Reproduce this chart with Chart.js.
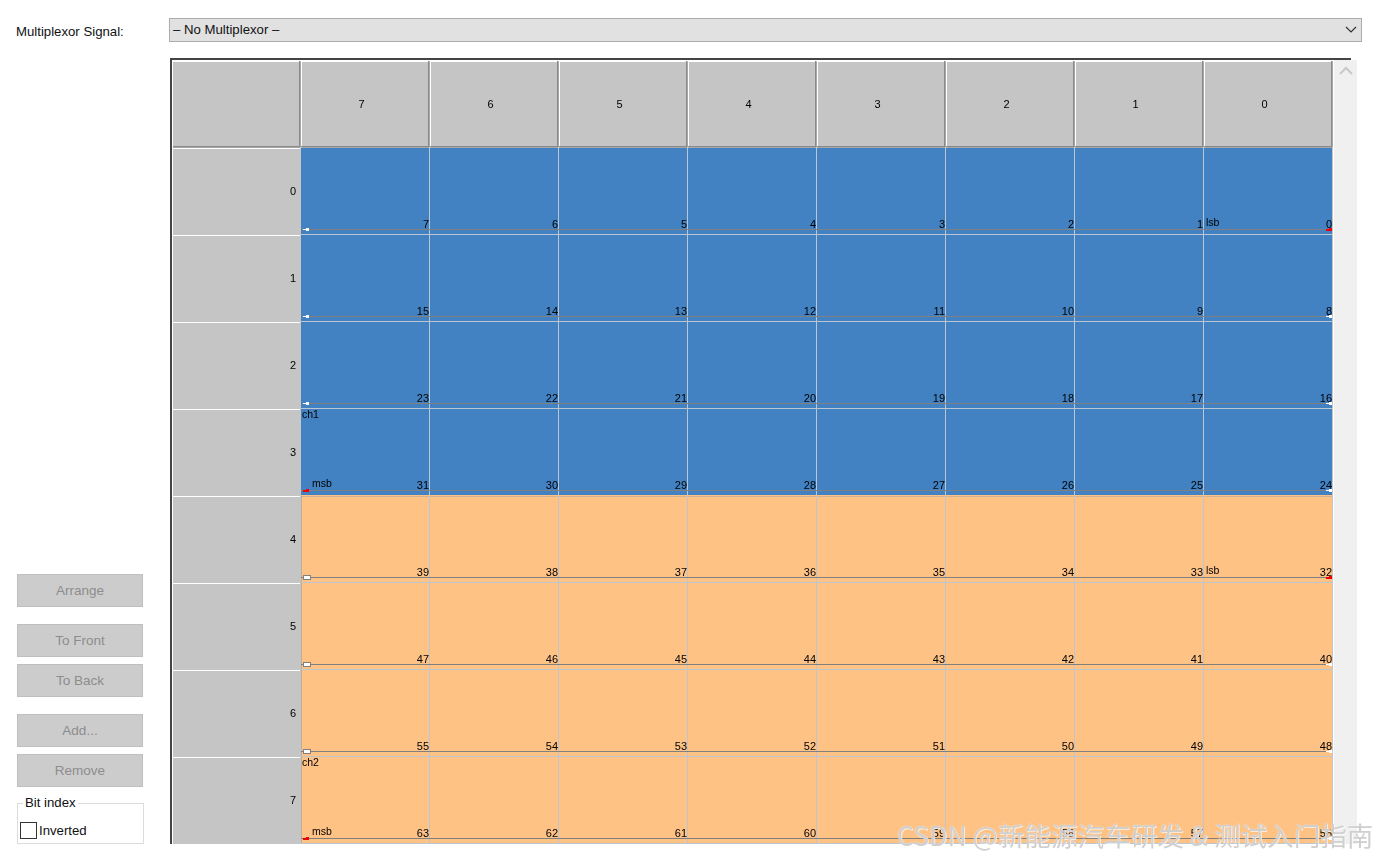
<!DOCTYPE html>
<html lang="en">
<head>
<meta charset="UTF-8">
<title>Message layout</title>
<script src="https://cdn.jsdelivr.net/npm/chart.js"></script>
<style>
    body { margin: 0; background: #fff; font-family: "Liberation Sans", Arial, sans-serif; overflow: hidden; }
    .ui { position: absolute; box-sizing: border-box; }
    .label { font-size: 13.2px; color: #111; white-space: nowrap; }
    .combo { left: 169px; top: 18px; width: 1193px; height: 24px; background: #e1e1e1; border: 1px solid #adadad; font-size: 13.2px; line-height: 22px; padding-left: 3px; color: #111; }
    .combo svg { position: absolute; right: 3px; top: 6px; }
    .btn { left: 17px; width: 126px; height: 33px; background: #ccc; border: 1px solid #bfbfbf; color: #8c8c8c; font-size: 13.5px; line-height: 31px; text-align: center; }
    .group { left: 17px; top: 803px; width: 127px; height: 41px; border: 1px solid #dcdcdc; }
    .groupTitle { left: 23px; top: 795px; background: #fff; padding: 0 2px; font-size: 13.2px; color: #111; line-height: 16px; }
    .check { left: 20px; top: 822px; width: 17px; height: 17px; border: 1px solid #333; background: #fff; }
    .scroll { left: 1334px; top: 60px; width: 23px; height: 784px; background: #f0f0f0; }
    .scroll svg { position: absolute; left: 5px; top: 6px; }
    .frameTop { left: 170px; top: 58px; width: 1181px; height: 2px; background: #444; }
    #chart { position: absolute; left: 170px; top: 58px; }
    .mark { left: 897px; top: 818px; font-size: 26.6px; line-height: 34px; color: rgba(195,195,195,0.8); white-space: nowrap; text-shadow: 0 0 1px #fff, 1px 1px 0 rgba(255,255,255,0.6); font-family: "Noto Sans CJK SC", "Noto Sans", sans-serif; }
</style>
</head>
<body>

<div class="ui label" style="left:16px;top:24px">Multiplexor Signal:</div>
<div class="ui combo">– No Multiplexor –
    <svg width="14" height="10"><path d="M2 2 L7 7 L12 2" fill="none" stroke="#333" stroke-width="1.2"/></svg>
</div>

<div class="ui btn" style="top:574px">Arrange</div>
<div class="ui btn" style="top:624px">To Front</div>
<div class="ui btn" style="top:664px">To Back</div>
<div class="ui btn" style="top:714px">Add...</div>
<div class="ui btn" style="top:754px">Remove</div>

<div class="ui group"></div>
<div class="ui groupTitle">Bit index</div>
<div class="ui check"></div>
<div class="ui label" style="left:39px;top:823px">Inverted</div>

<div class="ui scroll">
    <svg width="14" height="10"><path d="M1 8 L7 2 L13 8" fill="none" stroke="#c8c8c8" stroke-width="2"/></svg>
</div>
<div class="ui frameTop"></div>

<canvas id="chart" width="1164" height="786"></canvas>
<div class="ui mark">CSDN @新能源汽车研发 &amp; 测试入门指南</div>

<script>
const bitLabels = ['7', '6', '5', '4', '3', '2', '1', '0'];
const byteLabels = ['0', '1', '2', '3', '4', '5', '6', '7'];

// how many bits of each byte belong to the signal
const ch1Bits = [8, 8, 8, 8, 0, 0, 0, 0];
const ch2Bits = [0, 0, 0, 0, 8, 8, 8, 8];

const bitNumbers = [
    [7, 6, 5, 4, 3, 2, 1, 0],
    [15, 14, 13, 12, 11, 10, 9, 8],
    [23, 22, 21, 20, 19, 18, 17, 16],
    [31, 30, 29, 28, 27, 26, 25, 24],
    [39, 38, 37, 36, 35, 34, 33, 32],
    [47, 46, 45, 44, 43, 42, 41, 40],
    [55, 54, 53, 52, 51, 50, 49, 48],
    [63, 62, 61, 60, 59, 58, 57, 56]
];

const signalNames = ['', '', '', 'ch1', '', '', '', 'ch2'];
const msbBytes = [3, 7];
const lsbBytes = [0, 4];

const fontFamily = '"Liberation Sans", Arial, sans-serif';
const cellFont = '11px ' + fontFamily;
const smallFont = '10.5px ' + fontFamily;
const blue = '#4282c3';
const orange = '#ffc285';
const separator = '#bcc6d0';
const red = '#f00000';

// grey header cells behind the axis labels
const headerCells = {
    id: 'headerCells',
    beforeDraw(chart) {
        const { ctx, chartArea: area, scales: { x, y } } = chart;
        ctx.save();
        // outer frame
        ctx.fillStyle = '#444';
        ctx.fillRect(0, 0, 2, chart.height);
        ctx.fillStyle = '#c5c5c5';
        ctx.fillRect(2, 3, area.left - 2, chart.height);

        // corner and column headers
        const edges = [2];
        for (let i = 0; i <= bitLabels.length; i++) edges.push(x.getPixelForValue(i));
        for (let i = 0; i < edges.length - 1; i++) {
            const left = edges[i], right = edges[i + 1];
            ctx.fillStyle = '#c5c5c5';
            ctx.fillRect(left, 3, right - left, area.top - 3);
            ctx.fillStyle = '#fff';
            ctx.fillRect(left, 3, right - left, 1);
            ctx.fillRect(left, 3, 1, area.top - 3);
            ctx.fillStyle = '#8a8a8a';
            ctx.fillRect(right - 2, 3, 1.5, area.top - 4);
            ctx.fillRect(left, area.top - 2, right - left - 1, 1.5);
        }

        // row headers
        ctx.fillStyle = '#fff';
        ctx.fillRect(2, 3, 1, chart.height);
        byteLabels.forEach((_, i) => {
            const top = y.getPixelForValue(i) - (y.getPixelForValue(1) - y.getPixelForValue(0)) / 2;
            ctx.fillRect(2, top, area.left - 3, 1);
        });
        ctx.restore();
    }
};

// signal lines, bit numbers and signal names drawn over the bars
const bitOverlay = {
    id: 'bitOverlay',
    afterDatasetsDraw(chart) {
        const { ctx, chartArea: area, scales: { x, y } } = chart;
        const rowH = y.getPixelForValue(1) - y.getPixelForValue(0);
        ctx.save();

        // column separators and right edge
        ctx.fillStyle = separator;
        for (let i = 1; i < bitLabels.length; i++) {
            ctx.fillRect(x.getPixelForValue(i) - 1, area.top, 1, area.height);
        }
        ctx.fillStyle = '#c5c5c5';
        ctx.fillRect(area.right - 1, area.top, 1, area.height);

        byteLabels.forEach((_, r) => {
            const top = y.getPixelForValue(r) - rowH / 2;
            const bottom = top + rowH;
            const lineY = Math.round(bottom - 6);
            const onBlue = ch1Bits[r] > 0;

            // row separator, the last blue row runs straight into the orange
            ctx.fillStyle = ch2Bits[r + 1] > 0 && onBlue ? orange : separator;
            ctx.fillRect(area.left, bottom - 1, area.width - 1, 1);

            ctx.fillStyle = '#808080';
            ctx.fillRect(area.left, lineY, area.width - 1, 1);

            // end markers
            const leftColor = msbBytes.includes(r) ? red : '#fff';
            const rightColor = lsbBytes.includes(r) ? red : '#fff';
            if (!onBlue && leftColor === '#fff') {
                ctx.fillStyle = '#808080';
                ctx.fillRect(area.left + 2, lineY - 2, 8, 5);
                ctx.fillStyle = '#fff';
                ctx.fillRect(area.left + 3, lineY - 1, 6, 3);
            } else {
                ctx.fillStyle = leftColor;
                ctx.fillRect(area.left + 2, lineY, 5, leftColor === red ? 2 : 1);
                ctx.fillRect(area.left + 5, lineY - 1, 3, 3);
            }
            ctx.fillStyle = rightColor;
            ctx.fillRect(area.right - 7, lineY, 6, rightColor === red ? 2 : 1);
            ctx.fillRect(area.right - 4, lineY - 1, 3, 3);

            // bit numbers
            ctx.fillStyle = '#000';
            ctx.font = cellFont;
            ctx.textAlign = 'right';
            ctx.textBaseline = 'middle';
            bitNumbers[r].forEach((bit, c) => {
                ctx.fillText(bit, x.getPixelForValue(c + 1) - 1, bottom - 10.5);
            });

            ctx.font = smallFont;
            ctx.textAlign = 'left';
            if (lsbBytes.includes(r)) {
                ctx.fillText('lsb', x.getPixelForValue(7) + 2, bottom - 11.5);
            }
            if (msbBytes.includes(r)) {
                ctx.fillText('msb', area.left + 11, bottom - 11.5);
            }
            if (signalNames[r]) {
                ctx.fillText(signalNames[r], area.left + 1, top + 6);
            }
        });
        ctx.restore();
    }
};

new Chart(document.getElementById('chart').getContext('2d'), {
    type: 'bar',
    data: {
        labels: byteLabels,
        datasets: [
            { label: 'ch1', data: ch1Bits, backgroundColor: blue },
            { label: 'ch2', data: ch2Bits, backgroundColor: orange }
        ]
    },
    options: {
        indexAxis: 'y',
        responsive: false,
        animation: false,
        devicePixelRatio: 1,
        layout: { padding: { right: 1 } },
        categoryPercentage: 1,
        barPercentage: 1,
        plugins: { legend: { display: false }, tooltip: { enabled: false } },
        scales: {
            x: {
                position: 'top',
                stacked: true,
                min: 0,
                max: bitLabels.length,
                // one tick in the middle of every bit column
                afterBuildTicks(scale) { scale.ticks = bitLabels.map((_, i) => ({ value: i + 0.5 })); },
                afterFit(scale) { scale.height = 90; },
                grid: { display: false },
                border: { display: false },
                ticks: {
                    autoSkip: false,
                    maxRotation: 0,
                    padding: 28,
                    labelOffset: -4,
                    color: '#000',
                    font: { family: fontFamily, size: 11 },
                    callback: (value) => bitLabels[Math.floor(value)]
                }
            },
            y: {
                stacked: true,
                afterFit(scale) {
                    scale.width = 131;
                    scale.paddingTop = 0;
                    scale.paddingBottom = 0;
                },
                grid: { display: false, drawTicks: false },
                border: { display: false },
                ticks: {
                    padding: 5,
                    color: '#000',
                    font: { family: fontFamily, size: 11 }
                }
            }
        }
    },
    plugins: [headerCells, bitOverlay]
});
</script>
</body>
</html>
